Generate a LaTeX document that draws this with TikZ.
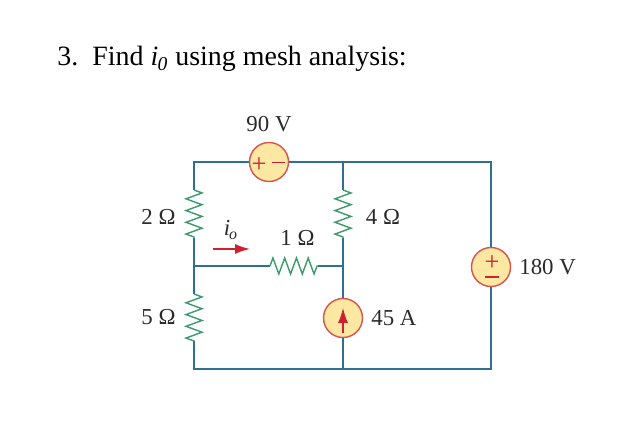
\documentclass[tikz,border=0pt]{standalone}
\usepackage{fontspec}
\setmainfont{Liberation Serif}
\usetikzlibrary{arrows.meta,decorations.pathmorphing}
\definecolor{wirecol}{HTML}{2F6F96}
\definecolor{rescol}{HTML}{3C9A6C}
\definecolor{srcfill}{HTML}{FDE8A3}
\definecolor{srcline}{HTML}{D9534A}
\definecolor{signcol}{HTML}{CF2030}
\definecolor{labelcol}{HTML}{2A2A2A}
\tikzset{
	wire/.style={draw=wirecol, line width=0.8pt},
	resistor/.style={draw=rescol, line width=0.8pt, decorate,
		decoration={zigzag, segment length=0.235cm, amplitude=0.16cm}},
	source/.style={circle, draw=srcline, fill=srcfill, line width=0.8pt, minimum size=0.78cm, inner sep=0pt},
	sign/.style={text=signcol, font=\fontsize{15}{15}\selectfont, inner sep=0pt},
	lbl/.style={text=labelcol, font=\fontsize{13}{15}\selectfont, inner sep=0pt},
}
\begin{document}
\begin{tikzpicture}
	
	\useasboundingbox (0,0) rectangle (12.74,8.58);
	
	\node[anchor=west, inner sep=0pt, font=\fontsize{15.9}{18}\selectfont] (title) at (1.14,7.40) {3.\ \ Find \textit{i\kern-0.02em\textsubscript{0}} using mesh analysis:};
	
	% corners and junctions
	\coordinate (tl) at (3.88,5.34);
	\coordinate (tm) at (6.86,5.34);
	\coordinate (tr) at (9.82,5.34);
	\coordinate (ml) at (3.88,3.26);
	\coordinate (mm) at (6.86,3.26);
	\coordinate (bl) at (3.88,1.20);
	\coordinate (bm) at (6.86,1.20);
	\coordinate (br) at (9.82,1.20);
	
	% resistor ends
	\coordinate (r2a) at (3.88,4.78);
	\coordinate (r2b) at (3.88,3.82);
	\coordinate (r5a) at (3.88,2.70);
	\coordinate (r5b) at (3.88,1.76);
	\coordinate (r4a) at (6.86,4.78);
	\coordinate (r4b) at (6.86,3.82);
	\coordinate (r1a) at (5.40,3.26);
	\coordinate (r1b) at (6.36,3.26);
	
	% sources
	\node[source] (v90) at (5.38,5.34) {};
	\node[source] (a45) at (6.86,2.22) {};
	\node[source] (v180) at (9.82,3.24) {};
	
	% wires
	\draw[wire] (v90) -- (tl) -- (r2a);
	\draw[wire] (v90) -- (tr) -- (v180);
	\draw[wire] (tm) -- (r4a);
	\draw[wire] (r2b) -- (ml) -- (r5a);
	\draw[wire] (r5b) -- (bl) -- (br) -- (v180);
	\draw[wire] (ml) -- (r1a);
	\draw[wire] (r1b) -- (mm);
	\draw[wire] (r4b) -- (mm) -- (a45);
	\draw[wire] (a45) -- (bm);
	
	% resistors
	\draw[resistor] (r2a) -- (r2b);
	\draw[resistor] (r5a) -- (r5b);
	\draw[resistor] (r4a) -- (r4b);
	\draw[resistor] (r1a) -- (r1b);
	
	% signs
	\node[sign] (v90p) at (5.18,5.28) {+};
	\node[sign] (v90m) at (5.57,5.33) {\rule{0.5em}{0.8pt}};
	\node[sign] (v180p) at (9.84,3.31) {+};
	\node[sign] (v180m) at (9.84,3.04) {\rule{0.5em}{0.8pt}};
	\draw[signcol, line width=0.9pt, shorten <=0.1cm, shorten >=0.2cm, -{Latex[length=0.3cm,width=0.2cm]}] (a45.south) -- (a45.north);
	
	% current arrow
	\coordinate (ioa) at (4.26,3.60);
	\coordinate (iob) at (5.00,3.60);
	\draw[signcol, line width=0.8pt, -{Latex[length=0.3cm,width=0.2cm]}] (ioa) -- (iob);
	
	% labels
	\node[lbl] (l90) at (5.38,6.10) {90 V};
	\node[lbl] (l2) at (3.17,4.24) {2 Ω};
	\node[lbl] (l5) at (3.17,2.24) {5 Ω};
	\node[lbl] (l4) at (7.66,4.24) {4 Ω};
	\node[lbl] (l1) at (5.95,3.82) {1 Ω};
	\node[lbl, anchor=west] (l45) at (7.42,2.22) {45 A};
	\node[lbl, anchor=west] (l180) at (10.38,3.24) {180 V};
	\node[lbl] (lio) at (4.62,3.98) {\textit{i\kern-0.05em\textsubscript{o}}};
	
\end{tikzpicture}
\end{document}
